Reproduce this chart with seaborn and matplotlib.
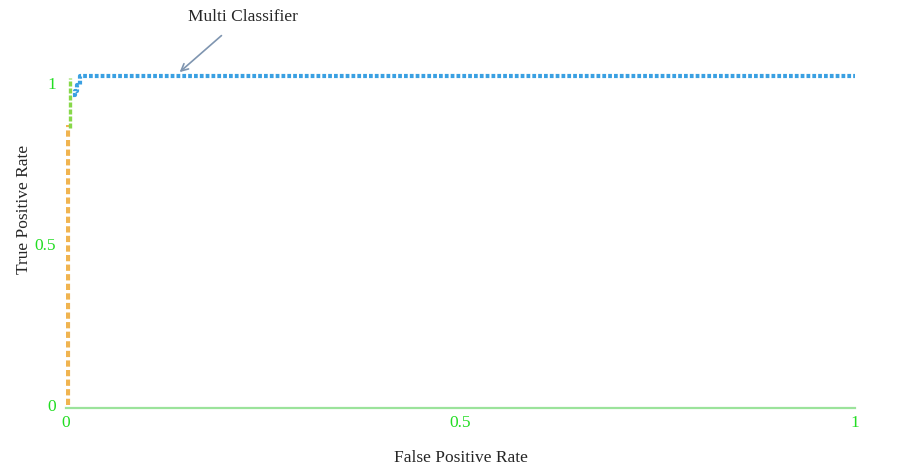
import matplotlib
matplotlib.use("Agg")
import matplotlib.pyplot as plt
import seaborn as sns
import pandas as pd

# ================================
# Data
# ================================
# blue: multi classifier ROC steps
multi_fpr = [0.009, 0.011, 0.014, 0.018, 1.0]
multi_tpr = [0.963, 0.975, 0.994, 1.022, 1.022]
# green: early part of another curve
green_fpr = [0.005, 0.005]
green_tpr = [0.86, 1.015]
# orange: curve hugging the y axis
orange_fpr = [0.003, 0.003]
orange_tpr = [0.0, 0.87]

tick_vals = [0, 0.5, 1]
tick_labels = ["0", "0.5", "1"]

# ================================
# Plot
# ================================
sns.set_style("white")
plt.rcParams["font.family"] = ["Liberation Serif", "DejaVu Serif"]

fig = plt.figure(figsize=(9.03, 4.70), dpi=100)
ax = fig.add_axes([66 / 903, (470 - 408) / 470, 789 / 903, (408 - 10) / 470])

sns.lineplot(data=pd.DataFrame({"x": orange_fpr, "y": orange_tpr}), x="x", y="y",
             ax=ax, color="#f0b450", linewidth=3.0, linestyle=(0, (1.5, 0.8)),
             estimator=None, sort=False)
sns.lineplot(data=pd.DataFrame({"x": green_fpr, "y": green_tpr}), x="x", y="y",
             ax=ax, color="#88d84a", linewidth=2.4, linestyle=(0, (1.5, 0.6)),
             estimator=None, sort=False)
sns.lineplot(data=pd.DataFrame({"x": multi_fpr, "y": multi_tpr}), x="x", y="y",
             ax=ax, color="#3aa0e2", linewidth=3.0, linestyle=(0, (0.9, 0.5)),
             drawstyle="steps-post", estimator=None, sort=False)

ax.set_xlim(0, 1)
ax.set_ylim(-0.008, (405 - 10) / 322)

for side in ["top", "right", "left"]:
    ax.spines[side].set_visible(False)
ax.spines["bottom"].set_color("#9be39b")
ax.spines["bottom"].set_linewidth(1.6)

ax.set_xticks(tick_vals)
ax.set_xticklabels(tick_labels)
ax.set_yticks(tick_vals)
ax.set_yticklabels(tick_labels)
ax.tick_params(axis="both", colors="#9be39b", labelcolor="#22dd22",
               labelsize=12.5, length=3, width=1, direction="out", pad=2)
ax.tick_params(axis="y", pad=4)

ax.set_xlabel("False Positive Rate", fontsize=12.5, labelpad=14)
ax.set_ylabel("True Positive Rate", fontsize=12.5, labelpad=2)

ax.annotate("Multi Classifier", xy=(0.144, 1.034), xytext=(0.224, 1.205),
            ha="center", va="center", fontsize=12.5, annotation_clip=False,
            arrowprops=dict(arrowstyle="->", color="#7f95b0", lw=1.2,
                            shrinkA=8, shrinkB=0))

plt.savefig("out.png", dpi=100)
